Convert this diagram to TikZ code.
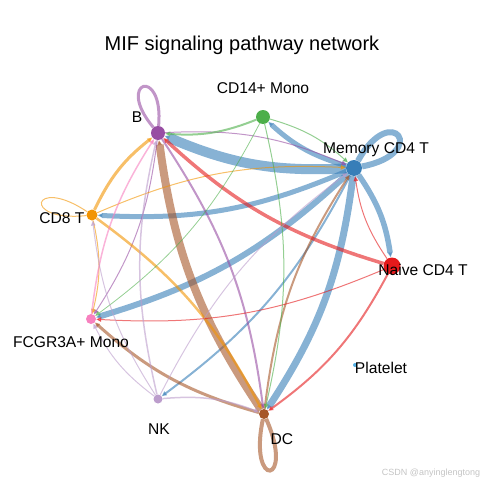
\documentclass[tikz,border=0pt]{standalone}
\usepackage{fontspec}
\setmainfont{Liberation Sans}
\usepackage{xcolor}
\usetikzlibrary{backgrounds,arrows.meta}
\definecolor{ccRed}{HTML}{E41A1C}
\definecolor{ccBlue}{HTML}{377EB8}
\definecolor{ccGreen}{HTML}{4DAF4A}
\definecolor{ccPurple}{HTML}{984EA3}
\definecolor{ccOrange}{HTML}{F29403}
\definecolor{ccPink}{HTML}{F781BF}
\definecolor{ccLilac}{HTML}{BC9DCC}
\definecolor{ccBrown}{HTML}{A65628}
\definecolor{ccSky}{HTML}{54B0E4}
\definecolor{ccMark}{HTML}{C4C4C4}

\begin{document}
\begin{tikzpicture}[
  x=1pt, y=-1pt,
  font=\fontsize{15.6}{18}\selectfont,
  cell/.style={circle, inner sep=0pt, minimum size=#1},
  lbl/.style={anchor=base, inner sep=0pt, text=black},
  link/.style={opacity=0.6, -{Triangle[length=5pt,width=4.5pt]}},
  selfloop/.style={opacity=0.6},
]
\useasboundingbox (0,0) rectangle (483,482);

% ── Title ────────────────────────────────────────────────────────────────────
\node[lbl, font=\fontsize{20}{24}\selectfont] (title) at (242,50) {MIF signaling pathway network};

% ── Cell groups on the circle ────────────────────────────────────────────────
\node[cell=14pt, fill=ccPurple] (nB)    at (158,133) {};
\node[cell=14pt, fill=ccGreen]  (nCD14) at (263,117) {};
\node[cell=16pt, fill=ccBlue]   (nMem)  at (354,168) {};
\node[cell=17pt, fill=ccRed]    (nNai)  at (392,266) {};
\node[cell=4pt,  fill=ccSky]    (nPla)  at (355,365) {};
\node[cell=10pt, fill=ccBrown]  (nDC)   at (264,414) {};
\node[cell=9pt,  fill=ccLilac]  (nNK)   at (158,399) {};
\node[cell=10pt, fill=ccPink]   (nFCG)  at (91,319)  {};
\node[cell=11pt, fill=ccOrange] (nCD8)  at (92,215)  {};

% ── Labels ───────────────────────────────────────────────────────────────────
\node[lbl] (lB)    at (137,122) {B};
\node[lbl] (lCD14) at (263,93)  {CD14+ Mono};
\node[lbl] (lMem)  at (376,153) {Memory CD4 T};
\node[lbl] (lNai)  at (423,275) {Naive CD4 T};
\node[lbl] (lPla)  at (381,373) {Platelet};
\node[lbl] (lDC)   at (282,444) {DC};
\node[lbl] (lNK)   at (159,434) {NK};
\node[lbl] (lFCG)  at (71,347)  {FCGR3A+ Mono};
\node[lbl] (lCD8)  at (62,223)  {CD8 T};

\node[lbl, font=\fontsize{9}{10}\selectfont, text=ccMark] (mark) at (431,475) {CSDN @anyinglengtong};

% ── Interactions (edge colour = sender) ──────────────────────────────────────
\begin{scope}[on background layer]
  \foreach \s/\t/\w/\c in {
      nMem/nB/10/ccBlue, nMem/nCD14/5/ccBlue, nMem/nCD8/5/ccBlue, nMem/nFCG/6/ccBlue,
      nMem/nNK/2/ccBlue, nMem/nDC/7/ccBlue, nMem/nNai/5.5/ccBlue,
      nDC/nB/8/ccBrown, nDC/nMem/2/ccBrown, nDC/nFCG/3/ccBrown,
      nB/nMem/1/ccPurple, nB/nDC/2/ccPurple, nB/nFCG/1/ccPurple,
      nCD8/nB/3/ccOrange, nCD8/nMem/1/ccOrange, nCD8/nDC/2.5/ccOrange, nCD8/nFCG/1/ccOrange,
      nNai/nB/3.5/ccRed, nNai/nMem/1/ccRed, nNai/nDC/2/ccRed, nNai/nFCG/1/ccRed,
      nCD14/nB/2/ccGreen, nCD14/nMem/1/ccGreen, nCD14/nFCG/0.8/ccGreen, nCD14/nDC/1/ccGreen,
      nFCG/nB/1.5/ccPink,
      nNK/nB/1.5/ccLilac, nNK/nDC/1.5/ccLilac, nNK/nCD8/1/ccLilac, nNK/nFCG/1/ccLilac,
      nNK/nMem/1/ccLilac}{
    \draw[link, color=\c, line width=\w pt] (\s) to[bend left=13] (\t);
  }

  % self loops
  \draw[selfloop, ccPurple, line width=3pt] (nB) .. controls +(130:68pt) and +(85:68pt) .. (nB);
  \draw[selfloop, ccOrange, line width=1pt] (nCD8) .. controls +(186:72pt) and +(146:72pt) .. (nCD8);
  \draw[selfloop, ccBlue, line width=6pt] (nMem) .. controls +(61:78pt) and +(11:78pt) .. (nMem);
  \draw[selfloop, ccBrown, line width=4pt] (nDC) .. controls +(-66:78pt) and +(-102:78pt) .. (nDC);
\end{scope}

\end{tikzpicture}
\end{document}
